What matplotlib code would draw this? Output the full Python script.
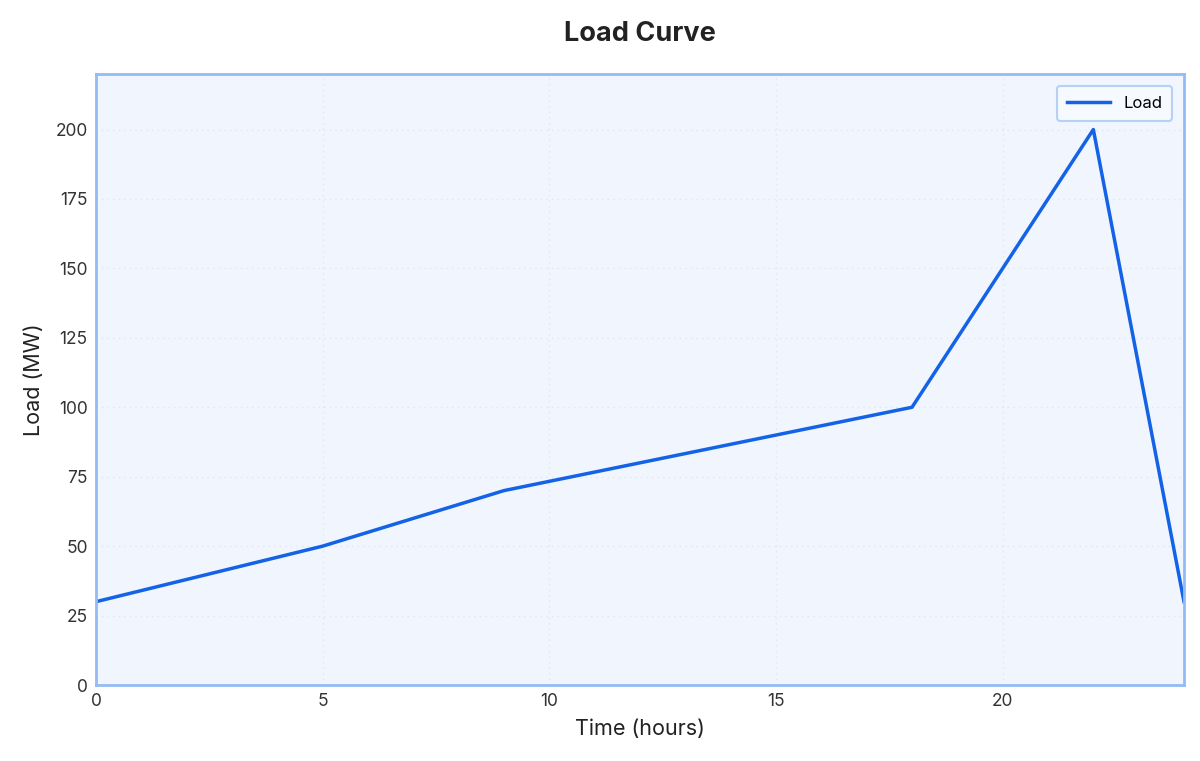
import matplotlib
matplotlib.use("Agg")
import matplotlib.pyplot as plt

# load curve data
hours = [0, 5, 9, 18, 22, 24]
load_mw = [30, 50, 70, 100, 200, 30]
x_ticks = [0, 5, 10, 15, 20]
y_ticks = [0, 25, 50, 75, 100, 125, 150, 175, 200]

plt.rcParams["font.family"] = ["Inter", "DejaVu Sans"]

fig = plt.figure(figsize=(12, 7.61), dpi=100)
ax = fig.add_axes([96 / 1200, 1 - 685 / 761, (1184 - 96) / 1200, (685 - 74) / 761])

ax.set_facecolor("#f1f6fe")
ax.plot(hours, load_mw, color="#1463e6", linewidth=2.5, label="Load")

ax.set_xlim(0, 24)
ax.set_ylim(0, 220)
ax.set_xticks(x_ticks)
ax.set_yticks(y_ticks)
ax.tick_params(length=0, labelsize=12.5, colors="#333333", pad=6)
ax.grid(True, linestyle=(0, (1, 3)), color="#e0e7f0", linewidth=1)
ax.set_axisbelow(True)
for sp in ax.spines.values():
    sp.set_color("#93bbf5")
    sp.set_linewidth(2)

ax.set_xlabel("Time (hours)", fontsize=15.5, color="#222222", labelpad=6)
ax.set_ylabel("Load (MW)", fontsize=15.5, color="#222222", labelpad=8)
ax.set_title("Load Curve", fontsize=19.5, fontweight="bold", color="#222222", pad=24)

leg = ax.legend(loc="upper right", fontsize=12, frameon=True, fancybox=True,
                handlelength=2.6, borderpad=0.6, borderaxespad=0.7)
leg.get_frame().set_edgecolor("#a7c8f5")
leg.get_frame().set_linewidth(1.5)
leg.get_frame().set_facecolor("#f8fbff")

fig.savefig("out.png", dpi=100)
